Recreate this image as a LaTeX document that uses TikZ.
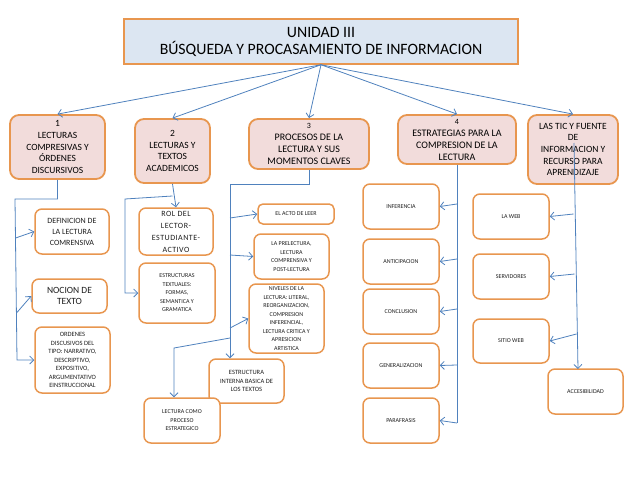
\documentclass[tikz,border=0pt]{standalone}
\usepackage{fontspec}
\setmainfont{Carlito}
\newfontfamily\spacedfont[LetterSpace=6]{Carlito}
\usetikzlibrary{arrows.meta,calc}
\definecolor{borderor}{HTML}{E8964F}
\definecolor{pinkfill}{HTML}{F2DCDB}
\definecolor{titlefill}{HTML}{DCE6F2}
\definecolor{lineblue}{HTML}{4F81BD}
\definecolor{txt}{HTML}{1E1E1E}
\tikzset{
  titlebox/.style={draw=borderor, fill=titlefill, line width=1.5pt, align=center, inner sep=0pt, text=black},
  mainbox/.style={draw=borderor, fill=pinkfill, line width=1.8pt, rounded corners=9pt, align=center, inner sep=0pt, text=black},
  subbox/.style={draw=borderor, fill=white, line width=1.5pt, rounded corners=7pt, align=center, inner sep=0pt, text=txt},
  lnk/.style={draw=lineblue, line width=0.8pt},
  conn/.style={lnk, -{Straight Barb[length=4pt,width=8pt]}},
  fbig/.style={font=\fontsize{9.5}{11.7}\selectfont},
  fmid/.style={font=\fontsize{8}{11}\selectfont},
  fsmall/.style={font=\fontsize{6}{8.5}\selectfont},
}
\begin{document}
\begin{tikzpicture}[x=1pt,y=-1pt]
\useasboundingbox (0,0) rectangle (638,479);
% title
\node[titlebox, minimum width=394pt, minimum height=45pt, font=\fontsize{15.8}{17}\selectfont] (title) at (321,41.5)
  {UNIDAD III\\BÚSQUEDA Y PROCASAMIENTO DE INFORMACION};
% main boxes
\node[mainbox, fbig, minimum width=95pt, minimum height=64pt] (b1) at (57.5,147)
  {1\\LECTURAS\\COMPRESIVAS Y\\ÓRDENES\\DISCURSIVOS};
\node[mainbox, fbig, minimum width=75pt, minimum height=64pt] (b2) at (172.5,151)
  {2\\LECTURAS Y\\TEXTOS\\ACADEMICOS};
\node[mainbox, minimum width=120pt, minimum height=50pt, font=\fontsize{10}{12}\selectfont] (b3) at (309,144)
  {{\fontsize{8}{9}\selectfont 3}\\PROCESOS DE LA\\LECTURA Y SUS\\MOMENTOS CLAVES};
\node[mainbox, minimum width=118pt, minimum height=49pt, font=\fontsize{10}{12}\selectfont] (b4) at (457,139.5)
  {{\fontsize{8}{9}\selectfont 4}\\ESTRATEGIAS PARA LA\\COMPRESION DE LA\\LECTURA};
\node[mainbox, fbig, minimum width=90pt, minimum height=69pt] (b5) at (573,149.5)
  {LAS TIC Y FUENTE\\DE\\INFORMACION Y\\RECURSO PARA\\APRENDIZAJE};
% column 1
\node[subbox, fmid, minimum width=74pt, minimum height=45pt] (def) at (72,231.5)
  {DEFINICION DE\\LA LECTURA\\COMRENSIVA};
\node[subbox, fbig, minimum width=75pt, minimum height=34pt] (noc) at (69.5,296)
  {NOCION DE\\TEXTO};
\node[subbox, minimum width=75pt, minimum height=66pt, font=\fontsize{6.5}{8.5}\selectfont] (ord) at (72.5,360)
  {ORDENES\\DISCUSIVOS DEL\\TIPO: NARRATIVO,\\DESCRIPTIVO,\\EXPOSITIVO,\\ARGUMENTATIVO\\EINSTRUCCIONAL};
% column 2
\node[subbox, minimum width=74pt, minimum height=47pt, font=\fontsize{8}{12}\spacedfont] (rol) at (176,231.5)
  {ROL DEL\\LECTOR-\\ESTUDIANTE-\\ACTIVO};
\node[subbox, fsmall, minimum width=76pt, minimum height=60pt] (est) at (177,293)
  {ESTRUCTURAS\\TEXTUALES:\\FORMAS,\\SEMANTICA Y\\GRAMATICA};
% column 3
\node[subbox, fsmall, minimum width=76pt, minimum height=20pt, rounded corners=5pt] (acto) at (296,214)
  {EL ACTO DE LEER};
\node[subbox, fsmall, minimum width=75pt, minimum height=45pt] (pre) at (291.5,256.5)
  {LA PRELECTURA,\\LECTURA\\COMPRENSIVA Y\\POST-LECTURA};
\node[subbox, fsmall, minimum width=75pt, minimum height=69pt] (niv) at (286.5,318.5)
  {NIVELES DE LA\\LECTURA: LITERAL,\\REORGANIZACION,\\COMPRESION\\INFERENCIAL,\\LECTURA CRITICA Y\\APRESICION\\ARTISTICA};
\node[subbox, minimum width=75pt, minimum height=44pt, font=\fontsize{6.5}{8.5}\selectfont] (ein) at (246.5,381)
  {ESTRUCTURA\\INTERNA BASICA DE\\LOS TEXTOS};
\node[subbox, fsmall, minimum width=76pt, minimum height=45pt] (lcp) at (182,420.5)
  {LECTURA COMO\\PROCESO\\ESTRATEGICO};
% column 4
\node[subbox, fsmall, minimum width=76pt, minimum height=45pt] (inf) at (401,206.5) {INFERENCIA};
\node[subbox, fsmall, minimum width=76pt, minimum height=45pt] (ant) at (401,261.5) {ANTICIPACION};
\node[subbox, fsmall, minimum width=76pt, minimum height=45pt] (con) at (401,311.5) {CONCLUSION};
\node[subbox, fsmall, minimum width=76pt, minimum height=45pt] (gen) at (401,365.5) {GENERALIZACION};
\node[subbox, fsmall, minimum width=76pt, minimum height=45pt] (par) at (401,420.5) {PARAFRASIS};
% column 5
\node[subbox, fsmall, minimum width=76pt, minimum height=45pt] (web) at (511,216.5) {LA WEB};
\node[subbox, fsmall, minimum width=76pt, minimum height=45pt] (ser) at (511,276.5) {SERVIDORES};
\node[subbox, fsmall, minimum width=76pt, minimum height=44pt] (sit) at (511,341) {SITIO WEB};
\node[subbox, fsmall, minimum width=75pt, minimum height=45pt] (acc) at (585.5,391.5) {ACCESIBILIDAD};
% title connectors
\foreach \b in {b1,b2,b3,b4,b5} \draw[conn] (title.south) -- (\b.north);
% tree 1
\coordinate (k1) at (57.5,199);
\coordinate (k2) at (15,199);
\coordinate (k3) at (17,360);
\coordinate (k4) at (15.6,238);
\coordinate (k5) at (16.5,313);
\draw[conn] (b1.south) -- (k1) -- (k2) -- (k3) -- (ord.west);
\draw[conn] (k4) -- (def.west);
\draw[conn] (k5) -- (noc.west);
% tree 2
\draw[conn] (b2.south) -- (rol.north);
\coordinate (m1) at (172.5,196);
\coordinate (m2) at (125,199);
\coordinate (m3) at (125,293);
\draw[conn] (m1) -- (m2) -- (m3) -- (est.west);
% tree 3
\coordinate (n1) at (309,184);
\coordinate (n2) at (230,184);
\coordinate (n4) at (230,218);
\coordinate (n5) at (230,255);
\coordinate (n6) at (230,328);
\coordinate (n7) at (230,338);
\coordinate (n8) at (174,348);
\draw[conn] (b3.south) -- (n1) -- (n2) -- (ein.north -| n2);
\draw[conn] (n4) -- (acto.west);
\draw[conn] (n5) -- (pre.west);
\draw[conn] (n6) -- (niv.west);
\draw[conn] (n7) -- (n8) -- (lcp.north -| n8);
% tree 4
\coordinate (p1) at (457,204);
\coordinate (p2) at (457,259);
\coordinate (p3) at (457,309);
\coordinate (p4) at (457,365);
\coordinate (p5) at (457,423);
\draw[lnk] (b4.south) -- (p5);
\draw[conn] (p1) -- (inf.east);
\draw[conn] (p2) -- (ant.east);
\draw[conn] (p3) -- (con.east);
\draw[conn] (p4) -- (gen.east);
\draw[conn] (p5) -- (par.east);
% tree 5
\coordinate (q0) at (574,143);
\coordinate (q9) at (578,369);
\coordinate (q1) at (573.5,214);
\coordinate (q2) at (574.5,274);
\coordinate (q3) at (576.5,334);
\draw[conn] (q0) -- (q9);
\draw[conn] (q1) -- (web.east);
\draw[conn] (q2) -- (ser.east);
\draw[conn] (q3) -- (sit.east);
\end{tikzpicture}
\end{document}
